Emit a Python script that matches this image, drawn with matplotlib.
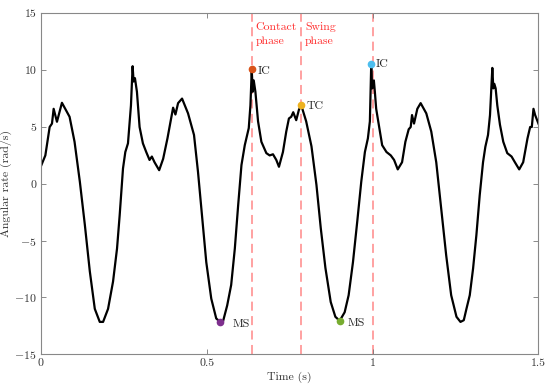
import matplotlib
matplotlib.use("Agg")
import matplotlib.pyplot as plt

plt.rcParams['font.family'] = ['cmr10', 'DejaVu Serif']
plt.rcParams['mathtext.fontset'] = 'cm'
plt.rcParams['axes.formatter.use_mathtext'] = True

# angular rate trace
time_s = [0.000, 0.014, 0.027, 0.034, 0.039, 0.049, 0.064, 0.087, 0.102, 0.118,
          0.133, 0.148, 0.163, 0.178, 0.188, 0.203, 0.218, 0.230, 0.238, 0.248,
          0.255, 0.263, 0.272, 0.277, 0.280, 0.284, 0.290, 0.298, 0.308, 0.318,
          0.328, 0.335, 0.343, 0.357, 0.369, 0.382, 0.392, 0.399, 0.406, 0.414,
          0.426, 0.444, 0.462, 0.474, 0.486, 0.499, 0.514, 0.529, 0.541, 0.549,
          0.562, 0.574, 0.585, 0.595, 0.605, 0.615, 0.627, 0.632, 0.636, 0.639,
          0.642, 0.647, 0.655, 0.665, 0.680, 0.690, 0.700, 0.710, 0.718, 0.730,
          0.740, 0.748, 0.755, 0.761, 0.770, 0.778, 0.785, 0.800, 0.816, 0.831,
          0.844, 0.858, 0.874, 0.888, 0.901, 0.916, 0.928, 0.941, 0.954, 0.966,
          0.977, 0.986, 0.992, 0.996, 0.999, 1.004, 1.007, 1.011, 1.019, 1.029,
          1.042, 1.055, 1.065, 1.076, 1.089, 1.099, 1.109, 1.115, 1.119, 1.125,
          1.135, 1.145, 1.162, 1.177, 1.192, 1.207, 1.222, 1.237, 1.253, 1.265,
          1.275, 1.283, 1.293, 1.303, 1.313, 1.323, 1.333, 1.340, 1.348, 1.354,
          1.361, 1.364, 1.367, 1.371, 1.376, 1.384, 1.394, 1.406, 1.419, 1.429,
          1.442, 1.454, 1.467, 1.475, 1.480, 1.485, 1.490, 1.500]
rate = [1.5, 2.5, 5.0, 5.3, 6.6, 5.46, 7.13, 5.9, 3.7, 0.18,
        -3.6, -7.7, -11.0, -12.15, -12.15, -11.0, -8.6, -5.7, -2.76, 1.35,
        2.8, 3.56, 6.9, 10.35, 9.0, 9.3, 8.1, 5.0, 3.56, 2.8,
        2.1, 2.4, 1.9, 1.2, 2.2, 4.0, 5.6, 6.7, 6.1, 7.1,
        7.5, 6.2, 4.3, 1.06, -2.76, -6.9, -10.1, -11.85, -12.15, -12.15,
        -10.7, -8.9, -5.7, -1.9, 1.65, 3.4, 4.9, 6.9, 10.0, 8.1,
        9.1, 8.1, 5.5, 3.7, 2.7, 2.5, 2.6, 2.1, 1.5, 2.8,
        4.6, 5.75, 5.9, 6.3, 5.6, 6.5, 6.93, 5.5, 3.3, -0.1,
        -3.9, -7.4, -10.4, -11.7, -12.05, -11.3, -9.8, -6.9, -3.3, 0.18,
        2.8, 4.0, 5.5, 10.45, 8.4, 9.1, 8.1, 6.6, 5.2, 3.4,
        2.8, 2.5, 2.1, 1.27, 1.9, 3.7, 4.8, 5.0, 6.05, 5.3,
        6.6, 7.1, 6.2, 4.6, 1.9, -2.2, -6.3, -9.8, -11.7, -12.15,
        -12.0, -11.0, -9.8, -7.45, -4.5, -1.0, 1.9, 3.26, 4.3, 6.05,
        10.2, 8.4, 8.8, 8.4, 6.9, 5.2, 3.7, 2.7, 2.4, 1.9,
        1.27, 1.9, 4.0, 5.0, 5.0, 6.6, 6.05, 5.3]

# gait events
event_names = ['MS', 'IC', 'TC', 'MS', 'IC']
event_t = [0.541, 0.636, 0.785, 0.901, 0.996]
event_v = [-12.15, 10.07, 6.93, -12.05, 10.5]
event_colors = ['#7E2F8E', '#D95319', '#EDB120', '#77AC30', '#4DBEEE']
label_offsets = [(9, -2), (4, -1), (4, -1), (6, -2), (3, 0)]

phase_lines = [0.636, 0.785, 1.0]
phase_names = ['Contact\nphase', 'Swing\nphase']

xticks = [0, 0.5, 1, 1.5]
xticklabels = ['0', '0.5', '1', '1.5']
yticks = [-15, -10, -5, 0, 5, 10, 15]
yticklabels = ['$-15$', '$-10$', '$-5$', '0', '5', '10', '15']

fig = plt.figure(figsize=(5.5, 3.87), dpi=100)
ax = fig.add_axes([0.074, 0.0845, 0.905, 0.881])

for x in phase_lines:
    ax.axvline(x, color='#ff9a9a', lw=1.3, ls=(0, (5, 3)), zorder=1)

ax.plot(time_s, rate, color='black', lw=1.6, zorder=2)

for name, t, v, c, off in zip(event_names, event_t, event_v, event_colors, label_offsets):
    ax.plot(t, v, 'o', color=c, ms=4.5, zorder=3)
    ax.annotate(name, (t, v), xytext=off, textcoords='offset points',
                ha='left', va='center', fontsize=8.5, color='#222222')

for x, name in zip(phase_lines[:2], phase_names):
    ax.text(x + 0.012, 14.2, name, color='#ff3030', fontsize=8.5,
            ha='left', va='top', linespacing=1.6)

ax.set_xlim(0, 1.5)
ax.set_ylim(-15, 15)
ax.set_xticks(xticks, labels=xticklabels)
ax.set_yticks(yticks, labels=yticklabels)
ax.tick_params(direction='in', top=True, right=True, length=3.5, width=0.6,
               color='#777777', labelsize=8.5, labelcolor='#333333', pad=3)
for s in ax.spines.values():
    s.set_color('#888888')
    s.set_linewidth(0.8)

ax.set_xlabel('Time (s)', fontsize=8.5, color='#333333', labelpad=3)
ax.set_ylabel('Angular rate (rad/s)', fontsize=8.5, color='#333333')
ax.yaxis.set_label_coords(-0.057, 0.5)

fig.savefig('out.png', dpi=100)
